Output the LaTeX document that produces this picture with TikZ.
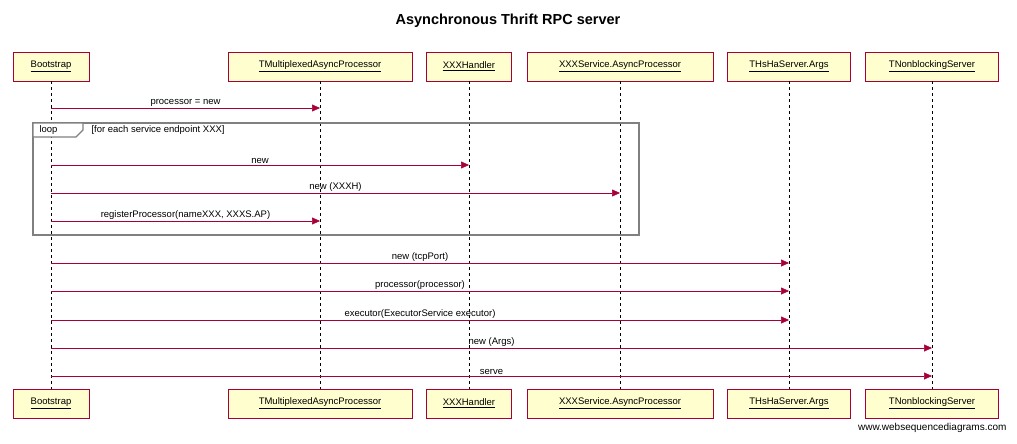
\documentclass[tikz,border=0pt]{standalone}
\usepackage{fontspec}
\setmainfont{Liberation Sans}
\usetikzlibrary{arrows.meta}
\definecolor{dred}{HTML}{A80036}
\definecolor{lyel}{HTML}{FEFECE}
\begin{document}
\begin{tikzpicture}[x=1pt,y=-1pt,
  part/.style={draw=dred,fill=lyel,minimum height=29pt,inner sep=2pt,font=\fontsize{9.5}{11}\selectfont},
  life/.style={dashed,black,line width=0.6pt},
  msg/.style={draw=dred,line width=0.6pt,-{Triangle[length=8pt,width=7pt]},fill=dred},
  lbl/.style={font=\fontsize{9.5}{11}\selectfont,above,inner sep=1.5pt,text=black}]
\useasboundingbox (0,0) rectangle (1017,444);
\node[font=\bfseries\fontsize{14.5}{16}\selectfont] (title) at (508,21) {Asynchronous Thrift RPC server};
\foreach \n/\x/\w/\t in {b/51/76/Bootstrap, m/320/184/TMultiplexedAsyncProcessor, h/469/85/XXXHandler, s/620/186/XXXService.AsyncProcessor, a/789/123/THsHaServer.Args, n/932/133/TNonblockingServer}{
  \node[part,minimum width=\w pt] (\n t) at (\x,66.5) {\underline{\t}};
  \node[part,minimum width=\w pt] (\n b) at (\x,403.5) {\underline{\t}};
  \draw[life] (\n t.south) -- (\n b.north);
}
\draw[gray,line width=1.3pt] (33,123) rectangle (639,235);
\draw[gray,line width=1.3pt,fill=white] (33,123) -- (83,123) -- (83,130) -- (76,137) -- (33,137) -- cycle;
\node[font=\fontsize{9.5}{11}\selectfont,anchor=west] (lp) at (36,130) {loop};
\node[font=\fontsize{9.5}{11}\selectfont,anchor=west] (lc) at (88,130) {[for each service endpoint XXX]};
\foreach \y/\to/\t in {108/m/{processor = new},165/h/new,193/s/{new (XXXH)},221/m/{registerProcessor(nameXXX, XXXS.AP)},263/a/{new (tcpPort)},291/a/{processor(processor)},320/a/{executor(ExecutorService executor)},348/n/{new (Args)},376/n/serve}{
  \coordinate (s\y) at (51,\y);
  \coordinate (e\y) at (\to t.south |- s\y);
  \draw[msg] (s\y) -- node[lbl] {\t} (e\y);
}
\node[font=\fontsize{10}{12}\selectfont,anchor=east] (wm) at (1010,428) {www.websequencediagrams.com};
\end{tikzpicture}
\end{document}
